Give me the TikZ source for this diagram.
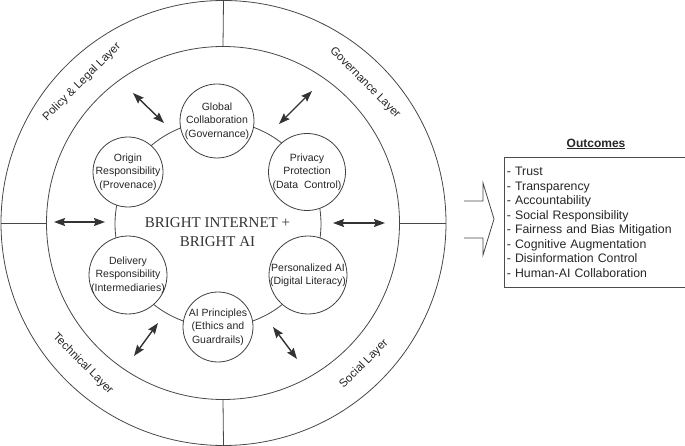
\documentclass[tikz,border=0pt]{standalone}
\usepackage{fontspec}
\setmainfont{Liberation Sans}
\newfontfamily\serifft{Liberation Serif}
\usetikzlibrary{arrows.meta}
\begin{document}
\begin{tikzpicture}[x=1pt,y=1pt,
  ln/.style={draw=black!72, line width=0.8pt},
  ring/.style={circle, draw=black!72, line width=0.8pt, inner sep=0pt, outer sep=0pt},
  bub/.style={circle, draw=black!75, line width=0.8pt, fill=white, inner sep=0pt, outer sep=0pt},
  btxt/.style={align=center, inner sep=0pt, font=\fontsize{10.5}{13.3}\selectfont, text=black!85},
  dbl/.style={draw=black!80, line width=1.4pt, {Stealth[length=11pt,width=8pt,inset=1.5pt]}-{Stealth[length=11pt,width=8pt,inset=1.5pt]}},
  layer/.style={font=\fontsize{11.5}{13}\selectfont, text=black!85},
]
\useasboundingbox (0,0) rectangle (685,-446);
% rings
\node[ring, minimum size=445] (outer) at (223.5,-223) {};
\node[ring, minimum size=353] (inner) at (223,-223) {};
\draw[ln] (outer.north) -- (inner.north);
\draw[ln] (outer.south) -- (inner.south);
\draw[ln] (outer.west) -- (inner.west);
\draw[ln] (outer.east) -- (inner.east);
\node[ring, minimum size=206] (core) at (218,-224) {};
% layer labels
\node[layer, rotate=45] (pol) at (82,-82) {Policy \& Legal Layer};
\node[layer, rotate=-45] (gov) at (365,-83) {Governance Layer};
\node[layer, rotate=-45] (tech) at (83,-364) {Technical Layer};
\node[layer, rotate=45] (soc) at (364,-364) {Social Layer};
% bubbles
\node[bub, minimum size=74] (glob) at (217,-121) {};
\node[btxt] (globt) at (glob) {Global\\Collaboration\\(Governance)};
\node[bub, minimum size=70] (orig) at (128,-172) {};
\node[btxt] (origt) at (orig) {Origin\\Responsibility\\(Provenace)};
\node[bub, minimum size=77] (priv) at (307,-172) {};
\node[btxt] (privt) at (priv) {Privacy\\Protection\\(Data\ \ Control)};
\node[bub, minimum size=78] (deli) at (128,-275) {};
\node[btxt] (delit) at (deli) {Delivery\\Responsibility\\(Intermediaries)};
\node[bub, minimum size=78] (pers) at (308,-275) {};
\node[btxt] (perst) at (pers) {Personalized AI\\(Digital Literacy)};
\node[bub, minimum size=70] (aipr) at (218,-327) {};
\node[btxt] (aiprt) at (aipr) {AI Principles\\(Ethics and\\Guardrails)};
% centre text
\node[font=\serifft\fontsize{15}{19}\selectfont, align=center, text=black!80] (ctr) at (217.5,-232) {BRIGHT INTERNET +\\BRIGHT AI};
% double arrows
\coordinate (tl1) at (133,-93);  \coordinate (tl2) at (164,-123);
\coordinate (tr1) at (312,-91);  \coordinate (tr2) at (279,-124);
\coordinate (l1) at (54,-222);   \coordinate (l2) at (105,-222);
\coordinate (r1) at (333,-223);  \coordinate (r2) at (385,-223);
\coordinate (bl1) at (158,-323); \coordinate (bl2) at (134,-356);
\coordinate (br1) at (273,-327); \coordinate (br2) at (297,-359);
\draw[dbl] (tl1) -- (tl2);
\draw[dbl] (tr1) -- (tr2);
\draw[dbl] (l1) -- (l2);
\draw[dbl] (r1) -- (r2);
\draw[dbl] (bl1) -- (bl2);
\draw[dbl] (br1) -- (br2);
% big hollow arrow
\draw[ln, line join=miter] (464,-201) -- (483,-201) -- (483,-183) -- (494,-219) -- (483,-255) -- (483,-238) -- (464,-238);
% outcomes
\node[font=\bfseries\fontsize{12}{14}\selectfont, text=black!85] (ttl) at (596,-144) {\underline{Outcomes}};
\node[draw=black!70, line width=0.8pt, anchor=north west, minimum width=181, minimum height=130,
      inner xsep=3pt, text width=175, align=left, font=\fontsize{12.3}{14.5}\selectfont, text=black!85] (outc) at (503.5,-157)
 {- Trust\\- Transparency\\- Accountability\\- Social Responsibility\\- Fairness and Bias Mitigation\\- Cognitive Augmentation\\- Disinformation Control\\- Human-AI Collaboration};
\end{tikzpicture}
\end{document}
